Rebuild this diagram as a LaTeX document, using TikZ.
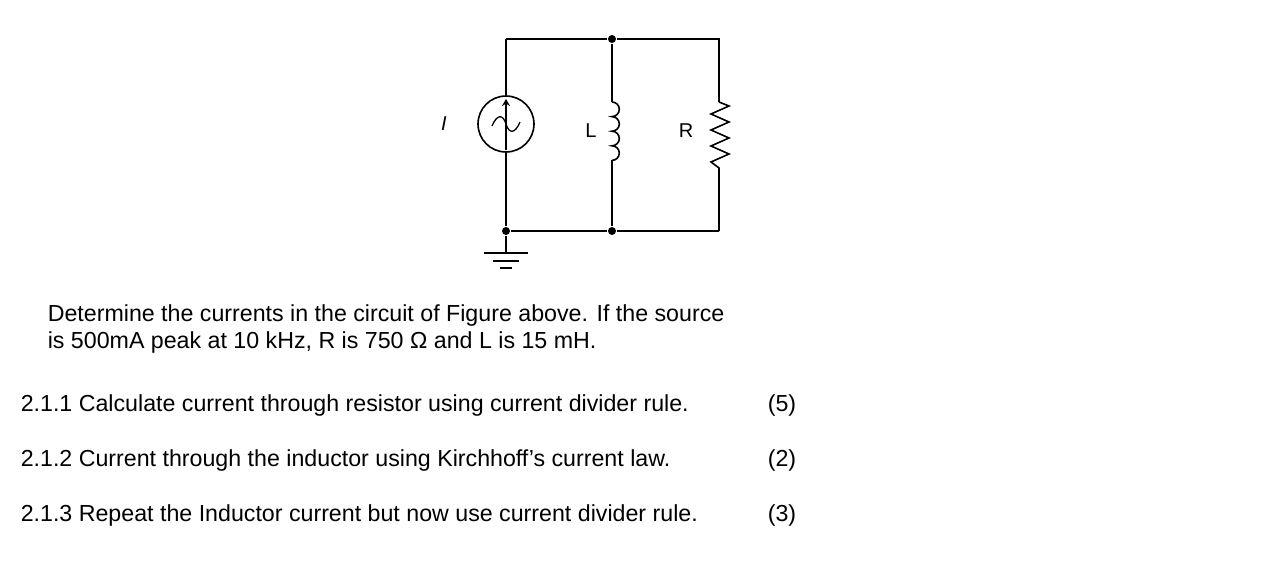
\documentclass[tikz,border=0pt]{standalone}
\usepackage{fontspec}
\setmainfont{Liberation Sans}
\usetikzlibrary{arrows.meta}
\begin{document}
\begin{tikzpicture}[x=1pt,y=-1pt,line width=1.6pt,
  txt/.style={anchor=base west,inner sep=0pt,font=\fontsize{23.2}{27}\selectfont},
  lbl/.style={inner sep=0pt,font=\fontsize{20}{24}\selectfont},
  dot/.style={circle,fill,inner sep=0pt,minimum size=8pt}]
\useasboundingbox (0,0) rectangle (1263,581);
\coordinate (tl) at (506,39); \node[dot] (tm) at (612,39) {}; \coordinate (tr) at (719,39);
\node[dot] (bl) at (506,231) {}; \node[dot] (bm) at (612,231) {}; \coordinate (br) at (719,231);
\node[circle,draw,minimum size=56pt,inner sep=0pt] (src) at (506,124) {};
\draw (tl) -- (src.north); \draw (src.south) -- (bl);
\draw[-{Stealth[length=7pt,width=8pt]}] (506,150) -- (506,99);
\draw[line width=1.3pt] (492,126) .. controls (497,114) and (503,114) .. (506,124) .. controls (509,134) and (515,134) .. (520,122);
\draw (tl) -- (tm) -- (tr) -- (719,102);
\draw (719,102) -- (729,106) -- (711,114) -- (729,122) -- (711,130) -- (729,138) -- (711,146) -- (729,154) -- (711,162) -- (719,168) -- (br);
\draw (tm) -- (612,102);
\draw (612,102) arc (-90:90:7.3 and 7.3) arc (-90:90:7.3 and 7.3) arc (-90:90:7.3 and 7.3) arc (-90:90:7.3 and 7.3);
\draw (612,160.4) -- (bm);
\draw (bl) -- (bm) -- (br);
\draw (bl) -- (506,253);
\draw (484,253) -- (528,253); \draw (493,261) -- (519,261); \draw (500,268) -- (512,268);
\node[lbl,font=\fontsize{20}{24}\selectfont\itshape] (i) at (444,124) {I};
\node[lbl] (l) at (591,131) {L};
\node[lbl] (r) at (686,131) {R};
\node[txt] at (47,321) {Determine the currents in the circuit of Figure above. If the source};
\node[txt] at (47,348) {is 500mA peak at 10 kHz, R is 750 Ω and L is 15 mH.};
\node[txt] at (20,411) {2.1.1 Calculate current through resistor using current divider rule.};
\node[txt] at (20,466) {2.1.2 Current through the inductor using Kirchhoff’s current law.};
\node[txt] at (20,521) {2.1.3 Repeat the Inductor current but now use current divider rule.};
\node[txt] at (767,411) {(5)};
\node[txt] at (767,466) {(2)};
\node[txt] at (767,521) {(3)};
\end{tikzpicture}
\end{document}
